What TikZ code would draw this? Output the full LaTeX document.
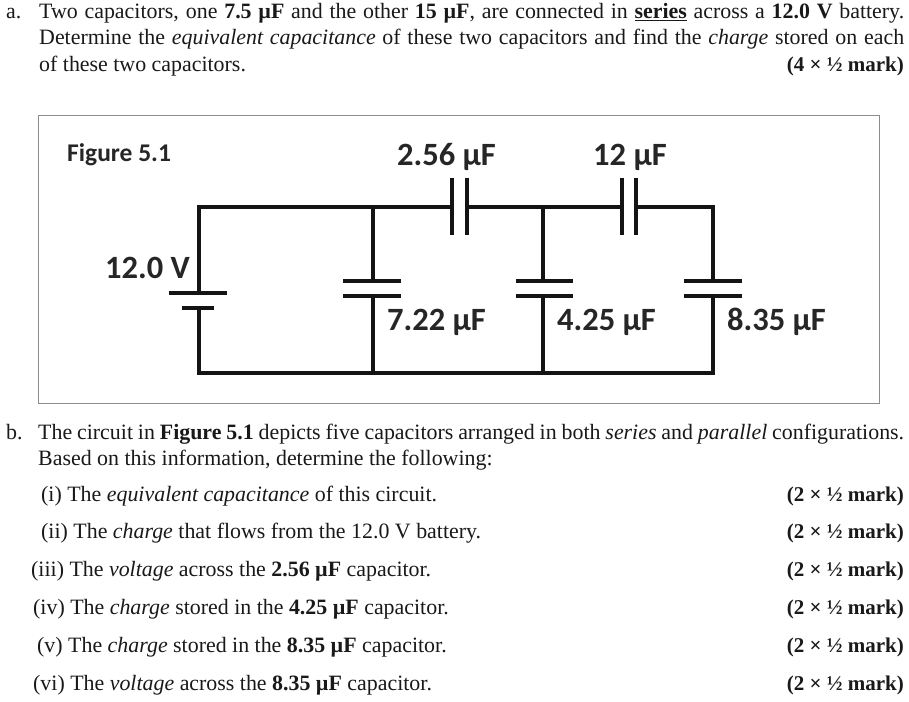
\documentclass[tikz,border=0pt]{standalone}
\usepackage{fontspec}
\setmainfont{Liberation Serif}
\newfontfamily\calib{Carlito}
\begin{document}
\begin{tikzpicture}[x=1pt,y=-1pt,
  wire/.style={line width=3.6pt,black!92,line cap=rect,line join=miter},
  plate/.style={line width=3.8pt,black!92},
  frameline/.style={draw=black!45,line width=1.4pt,fill=white},
  txt/.style={anchor=base west,inner sep=0pt,font=\fontsize{21.9}{24}\selectfont,text=black!90},
  marktxt/.style={anchor=base east,inner sep=0pt,font=\fontsize{21}{24}\selectfont\bfseries,text=black!90},
  figlab/.style={inner sep=0pt,anchor=base west,font=\calib\bfseries\fontsize{32.5}{36}\selectfont,text=black!85}]
\useasboundingbox (0,0) rectangle (909,701);
\fill[white] (0,0) rectangle (909,701);
% question a
\node[txt] (a0) at (6,19) {a.};
\node[txt] (a1) at (39,19) {\makebox[865pt][s]{Two capacitors, one \textbf{7.5 µF} and the other \textbf{15 µF}, are connected in \textbf{\underline{series}} across a \textbf{12.0 V} battery.}};
\node[txt] (a2) at (39,45) {\makebox[865pt][s]{Determine the \textit{equivalent capacitance} of these two capacitors and find the \textit{charge} stored on each}};
\node[txt] (a3) at (39,71) {of these two capacitors.};
\node[marktxt] (am) at (904,71) {(4 × ½ mark)};
% figure frame
\node[frameline,minimum width=841pt,minimum height=288pt,inner sep=0pt,anchor=north west] (frame) at (38,115) {};
\node[figlab,font=\calib\bfseries\fontsize{25.5}{28}\selectfont] (figtitle) at (67,161) {Figure 5.1};
\node[figlab] (lv) at (105,278) {12.0 V};
\node[figlab] (l1) at (397,165) {2.56 µF};
\node[figlab] (l2) at (593,165) {12 µF};
\node[figlab] (l3) at (387,330) {7.22 µF};
\node[figlab] (l4) at (557,330) {4.25 µF};
\node[figlab] (l5) at (727,330) {8.35 µF};
% junctions
\coordinate (tl) at (199,207); \coordinate (j1) at (373,207); \coordinate (j2) at (543,207); \coordinate (tr) at (713,207);
\coordinate (bl) at (199,373); \coordinate (b1) at (373,373); \coordinate (b2) at (543,373); \coordinate (br) at (713,373);
\coordinate (cs1a) at (452,207); \coordinate (cs1b) at (467,207);
\coordinate (cs2a) at (622,207); \coordinate (cs2b) at (636,207);
% battery
\coordinate (batA) at (199,293); \coordinate (batB) at (199,308);
\draw[wire] (batA) -- (tl) -- (j1) -- (cs1a);
\draw[wire] (cs1b) -- (j2) -- (cs2a);
\draw[wire] (cs2b) -- (tr) -- (713,281);
\draw[wire] (batB) -- (bl) -- (br) -- (713,296);
\draw[wire] (j1) -- (373,281);
\draw[wire] (j2) -- (543,281);
\draw[wire] (b1) -- (373,296);
\draw[wire] (b2) -- (543,296);
\draw[plate] (169,293) -- (227,293);
\draw[plate] (182,308) -- (214,308);
\draw[plate] (452,178) -- (452,235);
\draw[plate] (467,178) -- (467,235);
\draw[plate] (622,178) -- (622,235);
\draw[plate] (636,178) -- (636,235);
\foreach \a/\b in {343/401,516/573,684/742}{
  \draw[plate] (\a,281) -- (\b,281);
  \draw[plate] (\a,296) -- (\b,296);
}
% question b
\node[txt] (b0) at (6,439) {b.};
\node[txt] (b1t) at (38,439) {\makebox[866pt][s]{The circuit in \textbf{Figure 5.1} depicts five capacitors arranged in both \textit{series} and \textit{parallel} configurations.}};
\node[txt] (b2t) at (38,465) {Based on this information, determine the following:};
\node[txt] (q1) at (41,501) {(i) The \textit{equivalent capacitance} of this circuit.};
\node[txt] (q2) at (41,538) {(ii) The \textit{charge} that flows from the 12.0 V battery.};
\node[txt] (q3) at (31,576) {(iii) The \textit{voltage} across the \textbf{2.56 µF} capacitor.};
\node[txt] (q4) at (33,614) {(iv) The \textit{charge} stored in the \textbf{4.25 µF} capacitor.};
\node[txt] (q5) at (37,652) {(v) The \textit{charge} stored in the \textbf{8.35 µF} capacitor.};
\node[txt] (q6) at (33,690) {(vi) The \textit{voltage} across the \textbf{8.35 µF} capacitor.};
\foreach \n/\y in {m1/501,m2/538,m3/576,m4/614,m5/652,m6/690}
  \node[marktxt] (\n) at (904,\y) {(2 × ½ mark)};
\end{tikzpicture}
\end{document}
